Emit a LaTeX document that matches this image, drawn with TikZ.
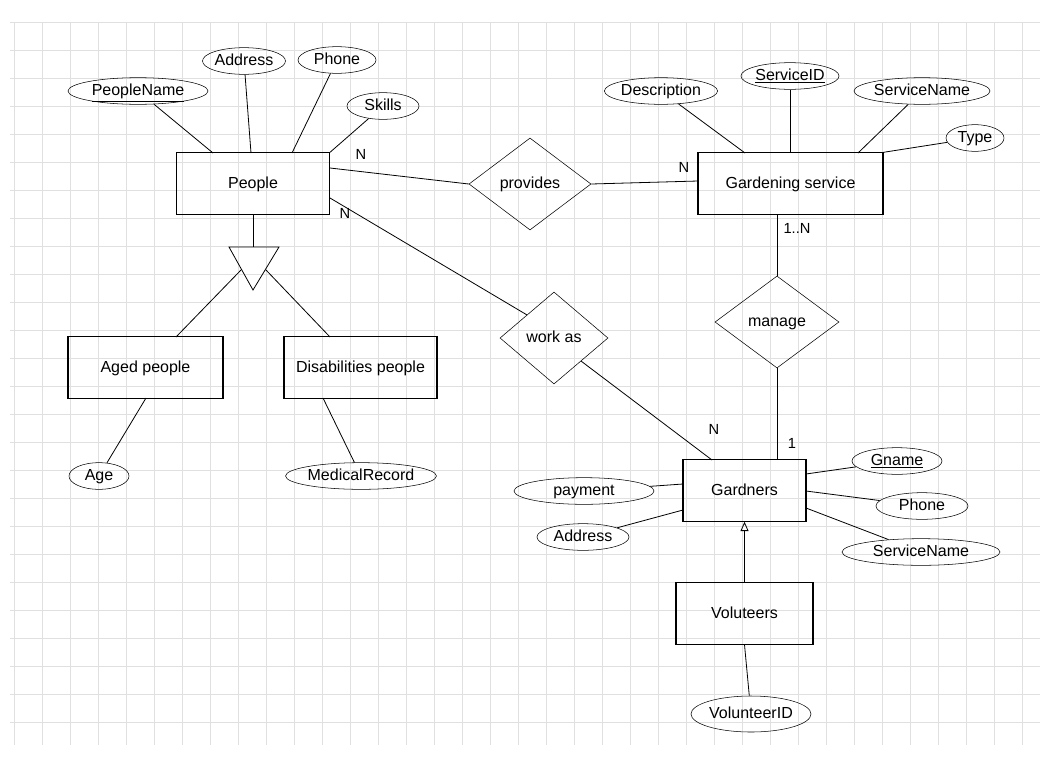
\documentclass[tikz,border=0pt]{standalone}
\usepackage{fontspec}
\setmainfont{Liberation Sans}
\usetikzlibrary{shapes.geometric,arrows.meta}
\begin{document}
\begin{tikzpicture}[x=0.75pt,y=-0.75pt,
  font=\fontsize{12}{14}\selectfont,
  every node/.style={text height=1.6ex,text depth=0.3ex},
  ent/.style={draw,thick,minimum width=#1*0.75pt,minimum height=46pt,inner sep=0pt},
  att/.style={draw,ellipse,minimum width=#1*0.75pt,minimum height=20pt,inner sep=0pt},
  rel/.style={draw,diamond,aspect=1,inner sep=0pt,minimum width=#1*0.75pt,minimum height=69pt},
  ln/.style={draw,semithick},
  lab/.style={font=\fontsize{11}{13}\selectfont}]
\useasboundingbox (0,0) rectangle (1060,768);
\fill[white] (0,0) rectangle (1060,768);
\foreach \x in {14,42,...,1040} \draw[black!12] (\x,22) -- (\x,745);
\foreach \y in {22,50,...,745} \draw[black!12] (10,\y) -- (1040,\y);
% entities
\node[ent=153] (people) at (253,183.5) {People};
\node[ent=155] (aged) at (145.5,367.5) {Aged people};
\node[ent=153] (dis) at (360.5,367.5) {Disabilities people};
\node[ent=185] (gs) at (790.5,183.5) {Gardening service};
\node[ent=123] (gard) at (744.5,490.5) {Gardners};
\node[ent=137] (vol) at (744.5,613.5) {Voluteers};
% relationships
\node[rel=122] (prov) at (530,184) {provides};
\node[rel=124] (man) at (777,322) {manage};
\node[rel=108] (work) at (554,338) {work as};
% attributes
\node[att=140] (pn) at (138,91) {\underline{PeopleName}};
\node[att=72] (padd) at (244,61) {Address};
\node[att=78] (pph) at (337,60) {Phone};
\node[att=72] (psk) at (383,106) {Skills};
\node[att=60] (age) at (99,476) {Age};
\node[att=150] (med) at (361,476) {MedicalRecord};
\node[att=110] (desc) at (661,91) {Description};
\node[att=96] (sid) at (790,76) {\underline{ServiceID}};
\node[att=136] (sname) at (922,91) {ServiceName};
\node[att=58] (type) at (975,138) {Type};
\node[att=140] (pay) at (584,491) {payment};
\node[att=92] (gadd) at (583,537) {Address};
\node[att=90] (gn) at (897,461) {\underline{Gname}};
\node[att=92] (gph) at (922,506) {Phone};
\node[att=158] (gsn) at (921,552) {ServiceName};
\node[att=120,minimum height=27pt] (vid) at (751,714) {VolunteerID};
% ISA triangle
\coordinate (t1) at (229,247); \coordinate (t2) at (279,247); \coordinate (t3) at (253,290);
\draw[semithick] (t1) -- (t2) -- (t3) -- cycle;
\coordinate (tt) at (253,247);
\draw[ln] (people.south) -- (tt);
\coordinate (tl) at (241,270); \coordinate (tr) at (266,270);
\coordinate (al) at (176,337); \coordinate (dr) at (330,337);
\draw[ln] (tl) -- (al);
\draw[ln] (tr) -- (dr);
% people attrs
\draw[ln] (pn) -- (213,153);
\draw[ln] (padd) -- (251,153);
\draw[ln] (pph) -- (292,153);
\draw[ln] (psk) -- (people.north east);
\draw[ln] (146,398) -- (age);
\draw[ln] (323,398) -- (med);
% gs attrs
\draw[ln] (desc) -- (745,153);
\draw[ln] (sid) -- (790,153);
\draw[ln] (sname) -- (858,153);
\draw[ln] (type) -- (gs.north east);
% relationships
\draw[ln] (330,168) -- (prov.west);
\draw[ln] (prov.east) -- (698,181);
\draw[ln] (gs.south -| man) -- (man.north);
\draw[ln] (man.south) -- (gard.north -| man);
\draw[ln] (330,198) -- (work.north west);
\draw[ln] (work.south east) -- (712,460);
\node[lab] at (361,155) {N};
\node[lab] at (684,168) {N};
\node[lab] at (345,214) {N};
\node[lab] at (714,430) {N};
\node[lab] at (797,229) {1..N};
\node[lab] at (792,444) {1};
% gardners attrs
\draw[ln] (pay) -- (683,484);
\draw[ln] (gadd) -- (683,510);
\draw[ln] (806,474) -- (gn);
\draw[ln] (806,491) -- (gph);
\draw[ln] (806,508) -- (gsn);
\draw[semithick,-{Triangle[open,length=7pt,width=6pt]}] (vol.north) -- (gard.south);
\draw[ln] (vol.south) -- (vid);
\end{tikzpicture}
\end{document}
